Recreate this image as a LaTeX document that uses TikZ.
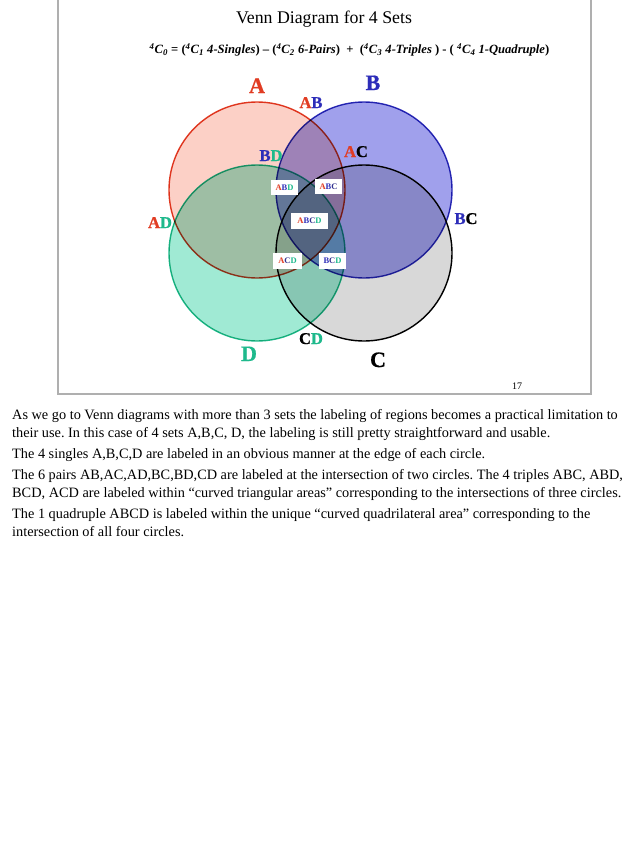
\documentclass[tikz,border=0pt]{standalone}
\usepackage{fontspec}
\setmainfont{Liberation Serif}[BoldFont={Liberation Serif Bold},ItalicFont={Liberation Serif Italic},BoldItalicFont={Liberation Serif Bold Italic}]
\newfontfamily\heavyfont{Liberation Serif Bold}[FakeBold=0.8]
\frenchspacing
\definecolor{cA}{RGB}{225,60,35}
\definecolor{cB}{RGB}{45,45,185}
\definecolor{cD}{RGB}{30,185,140}
\definecolor{cC}{RGB}{0,0,0}
\definecolor{cCs}{RGB}{50,50,140}
\definecolor{fA}{RGB}{252,208,198}
\definecolor{fB}{RGB}{160,160,236}
\definecolor{fC}{RGB}{216,216,216}
\definecolor{fD}{RGB}{160,234,212}
\definecolor{frameg}{RGB}{175,175,175}
\tikzset{
  setcircle/.style={line width=1.4pt},
  biglab/.style={inner sep=0pt, anchor=base, font=\heavyfont\fontsize{22}{22}\selectfont},
  pairlab/.style={inner sep=0pt, anchor=base, font=\heavyfont\fontsize{16.5}{16.5}\selectfont},
  boxlab/.style={fill=white, draw=none, inner sep=0pt, minimum height=15pt, font=\bfseries\fontsize{8.5}{8.5}\selectfont},
  para/.style={inner sep=0pt, anchor=base west, font=\fontsize{14.3}{14.3}\selectfont},
}
\begin{document}
\begin{tikzpicture}[x=1pt,y=-1pt]
\useasboundingbox (0,0) rectangle (638,851);
\fill[white] (0,0) rectangle (638,851);
\draw[frameg, line width=1.2pt] (58,-5) rectangle (591,394);
\node[inner sep=0pt, anchor=base, font=\fontsize{17.8}{17.8}\selectfont] (title) at (324,24) {Venn Diagram for 4 Sets};
\node[inner sep=0pt, anchor=base, font=\bfseries\fontsize{12.6}{12.6}\selectfont] (formula) at (349.5,54)
 {\textsuperscript{\itshape 4}\textit{C}\textsubscript{\itshape 0} = (\textsuperscript{\itshape 4}\textit{C}\textsubscript{\itshape 1} \textit{4-Singles}) -- (\textsuperscript{\itshape 4}\textit{C}\textsubscript{\itshape 2} \textit{6-Pairs})\ \ +\ \ (\textsuperscript{\itshape 4}\textit{C}\textsubscript{\itshape 3} \textit{4-Triples} ) - ( \textsuperscript{\itshape 4}\textit{C}\textsubscript{\itshape 4} \textit{1-Quadruple})};
\coordinate (oA) at (257,190);
\coordinate (oB) at (364,190);
\coordinate (oC) at (364,253);
\coordinate (oD) at (257,253);
\begin{scope}[blend mode=multiply]
\filldraw[setcircle, fill=fA, draw=cA] (oA) circle[radius=88pt];
\filldraw[setcircle, fill=fC, draw=cC] (oC) circle[radius=88pt];
\filldraw[setcircle, fill=fB, draw=cB] (oB) circle[radius=88pt];
\filldraw[setcircle, fill=fD, draw=cD] (oD) circle[radius=88pt];
\end{scope}
\node[biglab] (lA) at (257,93) {\color{cA}A};
\node[biglab] (lB) at (373,90) {\color{cB}B};
\node[biglab] (lD) at (249,361) {\color{cD}D};
\node[biglab] (lC) at (378,367) {\color{cC}C};
\node[pairlab] (lAB) at (311,108) {\color{cA}A\color{cB}B};
\node[pairlab] (lBD) at (271,161) {\color{cB}B\color{cD}D};
\node[pairlab] (lAC) at (356,157) {\color{cA}A\color{cC}C};
\node[pairlab] (lAD) at (160,228) {\color{cA}A\color{cD}D};
\node[pairlab] (lBC) at (466,224) {\color{cB}B\color{cC}C};
\node[pairlab] (lCD) at (311,344) {\color{cC}C\color{cD}D};
\node[boxlab, minimum width=27pt] (bABD) at (284.5,187.5) {\color{cA}A\color{cB}B\color{cD}D};
\node[boxlab, minimum width=27pt] (bABC) at (328.5,186.5) {\color{cA}A\color{cB}B\color{cCs}C};
\node[boxlab, minimum width=37pt, minimum height=16pt] (bABCD) at (309.5,221) {\color{cA}A\color{cB}B\color{cCs}C\color{cD}D};
\node[boxlab, minimum width=29pt, minimum height=16pt] (bACD) at (287.5,261) {\color{cA}A\color{cCs}C\color{cD}D};
\node[boxlab, minimum width=27pt, minimum height=16pt] (bBCD) at (332.5,261) {\color{cB}B\color{cCs}C\color{cD}D};
\node[inner sep=0pt, anchor=base, font=\fontsize{10}{10}\selectfont] (pg) at (517,389) {17};
\node[para] (p1) at (12,419) {As we go to Venn diagrams with more than 3 sets the labeling of regions becomes a practical limitation to};
\node[para] (p2) at (12,437) {their use. In this case of 4 sets A,B,C, D, the labeling is still pretty straightforward and usable.};
\node[para] (p3) at (12,458) {The 4 singles A,B,C,D are labeled in an obvious manner at the edge of each circle.};
\node[para] (p4) at (12,479) {The 6 pairs AB,AC,AD,BC,BD,CD are labeled at the intersection of two circles. The 4 triples ABC, ABD,};
\node[para] (p5) at (12,497) {BCD, ACD are labeled within ``curved triangular areas'' corresponding to the intersections of three circles.};
\node[para] (p6) at (12,518) {The 1 quadruple ABCD is labeled within the unique ``curved quadrilateral area'' corresponding to the};
\node[para] (p7) at (12,536) {intersection of all four circles.};
\end{tikzpicture}
\end{document}
